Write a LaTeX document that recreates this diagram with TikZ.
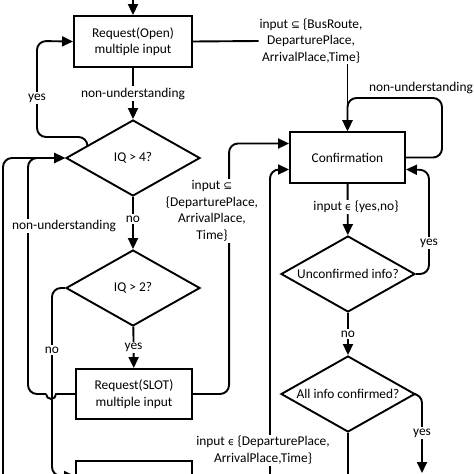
\documentclass[tikz,border=0pt]{standalone}
\usepackage{fontspec}
\setmainfont{Carlito}
\newfontfamily\symfont{DejaVu Sans}[Scale=0.8]
\usetikzlibrary{arrows.meta,shapes.geometric,calc}
\begin{document}
\begin{tikzpicture}[x=1pt,y=-1pt, line width=1.9pt,
  every node/.style={font=\fontsize{13.4}{16.5}\selectfont},
  box/.style={draw, rectangle, minimum width=118, minimum height=51, align=center, inner sep=0},
  dia/.style={draw, diamond, aspect=1.76, inner sep=0, minimum width=134, minimum height=76, align=center},
  lab/.style={fill=white, inner sep=1.5pt, align=center},
  arr/.style={-{Triangle[length=11pt,width=10pt]}},
  rc/.style={rounded corners=9pt}]
\useasboundingbox (0,0) rectangle (474,474);
\clip (0,0) rectangle (474,474);

% nodes
\node[box] (ropen) at (133,41.5) {Request(Open)\\multiple input};
\node[dia] (iq4) at (133,158) {IQ > 4?};
\node[dia] (iq2) at (133,288) {IQ > 2?};
\node[box, minimum width=116, minimum height=50] (rslot) at (134,394) {Request(SLOT)\\multiple input};
\node[box, minimum width=116, minimum height=30] (rnext) at (134,476) {};
\node[box, minimum width=115] (conf) at (347.5,157.5) {Confirmation};
\node[dia] (unconf) at (348,274) {Unconfirmed info?};
\node[dia] (allinfo) at (348,394) {All info confirmed?};

\node[inner sep=0, align=center] (l1) at (311,41) {input {\symfont ⊆} \{BusRoute,\\DeparturePlace,\\ArrivalPlace,Time\}};

% free ends
\coordinate (top) at (133,-5);
\coordinate (offL) at (3,495);
\coordinate (offM) at (270,495);
\coordinate (offR) at (422,473);
\coordinate (offB) at (348,495);
\coordinate (p4) at ($(iq4.west)!0.33!(iq4.north)$);

% connectors
\draw[arr] (top) -- (ropen.north);
\draw (ropen.east) -- (l1.west);
\draw[arr] (l1.south -| conf.north) -- (conf.north);
\draw[arr, rc] (conf.east) -| (442,98) -| (conf.north);
\node at (421,88) {non-understanding};

\draw[arr] (ropen) -- node[lab]{non-understanding} (iq4);
\draw[arr, rc] (p4) -- (p4 |- 0,137) -| (37,41) -- (ropen.west);
\draw[arr] (iq4) -- node[lab, pos=0.42]{no} (iq2);
\draw[arr] (iq2) -- node[lab]{yes} (rslot);
\draw[arr, rc] (iq2.west) -| (52,476) -- (rnext.west);

\draw (rslot.west) -- ($(rslot.west)+(-19,0)$) arc[start angle=0,end angle=180,radius=5];
\draw[arr, rc] ($(rslot.west)+(-29,0)$) -| (28,158) -- (iq4.west);
\draw[arr, rc] (offL) |- (iq4.west);

\draw[arr, rc] (rslot.east) -| ($(conf.west)+(-60,-14)$) -- ($(conf.west)+(0,-14)$);
\draw[arr, rc] (offM) |- ($(conf.west)+(0,12)$);

\draw[arr] (conf) -- (unconf);
\draw[arr, rc] (unconf.east) -| (429,170) -- ($(conf.east)+(0,12)$);
\draw[arr] (unconf) -- node[lab]{no} (allinfo);
\draw[arr, rc] (allinfo.east) -| (offR);
\draw (allinfo.south) -- (offB);

% labels over lines
\node[lab] at (37,98) {yes};
\node[lab] at (52,350) {no};
\node[lab] at (64,226) {non-understanding};
\node[lab] at (212,211) {input {\symfont ⊆}\\\{DeparturePlace,\\ArrivalPlace,\\Time\}};
\node[lab] at (263,450) {input {\symfont ϵ} \{DeparturePlace,\\ArrivalPlace,Time\}};
\node[lab] at (356,207) {input {\symfont ϵ} \{yes,no\}};
\node[lab] at (429,243) {yes};
\node[lab] at (422,433) {yes};
\end{tikzpicture}
\end{document}
